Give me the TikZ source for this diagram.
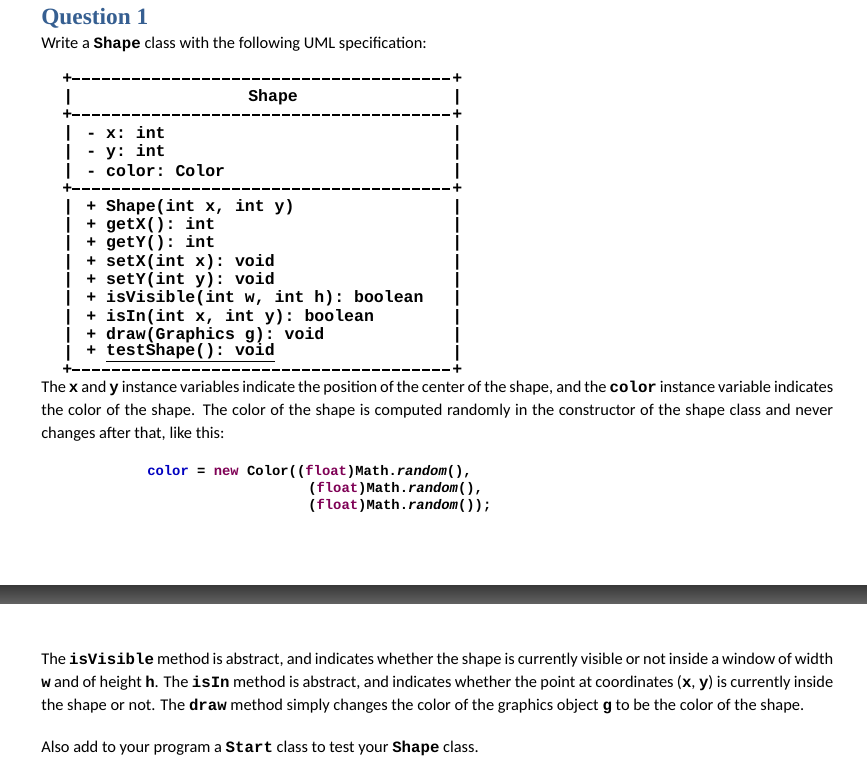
\documentclass[tikz,border=0pt]{standalone}
\usepackage{fontspec}
\setmainfont{Carlito}
\setmonofont{Liberation Mono}
\newfontfamily\headfont{Liberation Serif}
\definecolor{headblue}{RGB}{54,95,145}
\definecolor{kwpurple}{RGB}{127,0,85}
\definecolor{varblue}{RGB}{0,0,192}
\newcommand{\cw}[1]{{\ttfamily\bfseries\fontsize{11.8pt}{12pt}\selectfont #1}}
\begin{document}
\begin{tikzpicture}[x=0.75pt,y=-0.75pt,
  uml/.style={anchor=west,inner sep=0pt,font=\ttfamily\bfseries\fontsize{12.4pt}{14pt}\selectfont},
  para/.style={anchor=north west,inner sep=0pt,text width=594pt,align=justify,
     font=\fontsize{12.3pt}{17.25pt}\selectfont},
  code/.style={anchor=west,inner sep=0pt,font=\ttfamily\bfseries\fontsize{10.4pt}{12pt}\selectfont},
  border/.style={draw,line width=1pt,dash pattern=on 6pt off 1.5pt}]
\useasboundingbox (0,0) rectangle (867,777);
\fill[white] (0,0) rectangle (867,777);
\node[anchor=west,inner sep=0pt,text=headblue,font=\headfont\bfseries\fontsize{17.5pt}{19pt}\selectfont] (q) at (41,18) {Question 1};
\node[anchor=west,inner sep=0pt,font=\fontsize{12.3pt}{13pt}\selectfont] (w) at (41,44) {Write a \cw{Shape} class with the following UML specification:};
% borders
\foreach \yy/\nm in {79/b1,115/b2,189/b3,370/b4}{
  \node[uml] (\nm l) at (62,\yy) {+};
  \node[uml] (\nm r) at (452,\yy) {+};
  \draw[border] (\nm l.east) -- (\nm r.west);
}
\foreach \yy in {97,133,152,171,207,225,243,262,280,298,317,335,353}{
  \node[uml] at (63,\yy) {|};
  \node[uml] at (452,\yy) {|};
}
\node[uml] (title) at (248,97) {Shape};
\node[uml] (a1) at (86,133) {- x: int};
\node[uml] (a2) at (86,152) {- y: int};
\node[uml] (a3) at (86,171) {- color: Color};
\node[uml] (m1) at (86,207) {+ Shape(int x, int y)};
\node[uml] (m2) at (86,225) {+ getX(): int};
\node[uml] (m3) at (86,243) {+ getY(): int};
\node[uml] (m4) at (86,262) {+ setX(int x): void};
\node[uml] (m5) at (86,280) {+ setY(int y): void};
\node[uml] (m6) at (86,298) {+ isVisible(int w, int h): boolean};
\node[uml] (m7) at (86,317) {+ isIn(int x, int y): boolean};
\node[uml] (m8) at (86,335) {+ draw(Graphics g): void};
\node[uml] (m9) at (86,353) {+ \underline{testShape(): void}};
\node[para] (p1) at (41,381) {The \cw{x} and \cw{y} instance variables indicate the position of the center of the shape, and the \cw{color} instance variable indicates the color of the shape. The color of the shape is computed randomly in the constructor of the shape class and never changes after that, like this:};
\node[code] (c1) at (147,472) {\textcolor{varblue}{color} = \textcolor{kwpurple}{new} Color((\textcolor{kwpurple}{float})Math.\textit{random}(),};
\node[code] (c2) at (308,489) {(\textcolor{kwpurple}{float})Math.\textit{random}(),};
\node[code] (c3) at (308,506) {(\textcolor{kwpurple}{float})Math.\textit{random}());};
\shade[top color=black!78,bottom color=black!62] (0,585) rectangle (867,603);
\node[para] (p2) at (41,653) {The \cw{isVisible} method is abstract, and indicates whether the shape is currently visible or not inside a window of width \cw{w} and of height \cw{h}. The \cw{isIn} method is abstract, and indicates whether the point at coordinates (\cw{x}, \cw{y}) is currently inside the shape or not. The \cw{draw} method simply changes the color of the graphics object \cw{g} to be the color of the shape.};
\node[anchor=west,inner sep=0pt,font=\fontsize{12.3pt}{13pt}\selectfont] (p3) at (41,748) {Also add to your program a \cw{Start} class to test your \cw{Shape} class.};
\end{tikzpicture}
\end{document}
